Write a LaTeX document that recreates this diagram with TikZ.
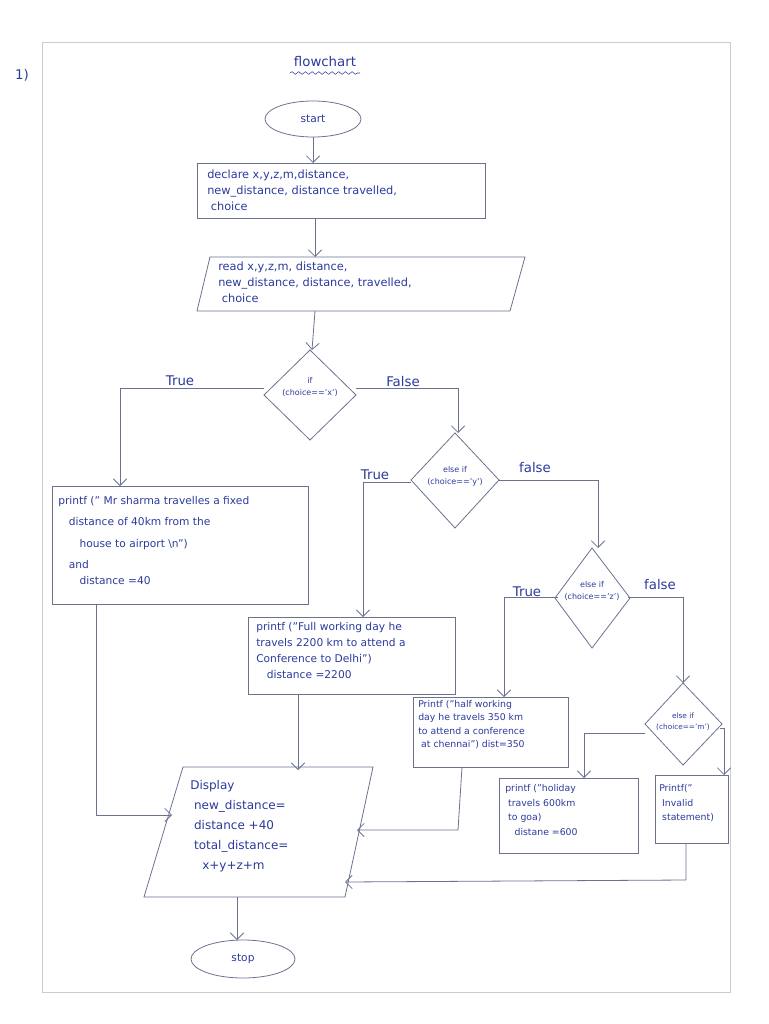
\documentclass[tikz,border=0pt]{standalone}
\usepackage{fontspec}
\setmainfont{DejaVu Sans}
\usetikzlibrary{shapes.geometric,arrows.meta,decorations.pathmorphing}
\definecolor{ink}{HTML}{2B3A9C}
\definecolor{pen}{HTML}{6A7290}
\begin{document}
\begin{tikzpicture}[x=0.75pt,y=-0.75pt,
  ln/.style={draw=pen,line width=0.6pt},
  arr/.style={ln,-{Straight Barb[length=5pt]}},
  txt/.style={text=ink,font=\fontsize{8}{12}\selectfont,inner sep=0pt},
  small/.style={font=\fontsize{6}{9}\selectfont},
  lbl/.style={text=ink,font=\fontsize{10}{12}\selectfont,inner sep=0pt}]
\useasboundingbox (0,0) rectangle (768,1024);
\draw[gray!40,line width=0.5pt] (42,42) rectangle (730,992);
\node[lbl] (num) at (22,75) {1)};
\node[lbl] (title) at (325,62) {flowchart};
\draw[ink,decorate,decoration={snake,amplitude=1pt,segment length=5pt}] (290,73) -- (360,73);
% start
\draw[ln] (313,119) ellipse (48 and 18);
\node[txt] (start) at (313,119) {start};
% declare
\draw[ln] (197,163) rectangle (485,218);
\node[txt,anchor=north west,align=left,font=\fontsize{8.5}{12}\selectfont] (decl) at (207,170) {declare x,y,z,m,distance,\\new\_distance, distance travelled,\\\ choice};
% read
\draw[ln] (210,257) -- (525,257) -- (510,311) -- (197,311) -- cycle;
\node[txt,anchor=north west,align=left,font=\fontsize{8.5}{12}\selectfont] (read) at (218,262) {read x,y,z,m, distance,\\new\_distance, distance, travelled,\\\ choice};
% diamonds
\draw[ln] (310,350) -- (356,395) -- (310,440) -- (264,395) -- cycle;
\node[txt,align=center,small] (if1) at (310,387) {if\\(choice=='x')};
\draw[ln] (455,433) -- (499,480) -- (455,528) -- (411,480) -- cycle;
\node[txt,align=center,small] (if2) at (455,476) {else if\\(choice=='y')};
\draw[ln] (592,548) -- (630,598) -- (592,648) -- (555,598) -- cycle;
\node[txt,align=center,small] (if3) at (592,591) {else if\\(choice=='z')};
\draw[ln] (683,683) -- (722,724) -- (683,765) -- (645,724) -- cycle;
\node[txt,align=center,font=\fontsize{5.5}{8}\selectfont] (if4) at (683,722) {else if\\(choice=='m')};
% labels
\node[lbl] (t1) at (180,381) {True};
\node[lbl] (f1) at (403,382) {False};
\node[lbl] (t2) at (375,475) {True};
\node[lbl] (f2) at (535,468) {false};
\node[lbl] (t3) at (527,592) {True};
\node[lbl] (f3) at (660,585) {false};
% print boxes
\draw[ln] (52,486) rectangle (308,604);
\node[txt,anchor=north west,align=left] (p1) at (58,496) {printf (" Mr sharma travelles a fixed\\[4pt]\quad distance of 40km from the\\[4pt]\qquad house to airport \textbackslash n")\\[4pt]\quad and\\\qquad distance =40};
\draw[ln] (248,617) rectangle (455,694);
\node[txt,anchor=north west,align=left] (p2) at (256,622) {printf ("Full working day he\\travels 2200 km to attend a\\Conference to Delhi")\\\quad distance =2200};
\draw[ln] (413,697) rectangle (568,767);
\node[txt,anchor=north west,align=left,font=\fontsize{7}{10}\selectfont] (p3) at (418,700) {Printf ("half working\\day he travels 350 km\\to attend a conference\\\ at chennai") dist=350};
\draw[ln] (499,778) rectangle (638,853);
\node[txt,anchor=north west,align=left,font=\fontsize{7}{11}\selectfont] (p4) at (505,784) {printf ("holiday\\\ travels 600km\\\ to goa)\\\quad distane =600};
\draw[ln] (655,775) rectangle (728,843);
\node[txt,anchor=north west,align=left,font=\fontsize{7}{11}\selectfont] (p5) at (659,784) {Printf("\\\ Invalid\\\ statement)};
% display
\draw[ln] (183,767) -- (373,767) -- (345,897) -- (144,897) -- cycle;
\node[txt,anchor=north west,align=left,font=\fontsize{9}{15}\selectfont] (disp) at (190,780) {Display\\\ new\_distance=\\\ distance +40\\\ total\_distance=\\\quad x+y+z+m};
% stop
\draw[ln] (243,959) ellipse (52 and 19);
\node[txt] (stop) at (243,959) {stop};
% connectors
\coordinate (a1) at (313,137); \coordinate (a2) at (313,163);
\draw[arr] (a1) -- (a2);
\draw[arr] (315,218) -- (315,257);
\draw[arr] (315,311) -- (312,350);
\draw[arr] (264,388) -- (120,388) -- (120,486);
\draw[arr] (356,388) -- (458,388) -- (458,433);
\draw[arr] (411,482) -- (363,482) -- (363,617);
\draw[arr] (499,480) -- (598,480) -- (598,548);
\draw[arr] (558,597) -- (504,597) -- (504,697);
\draw[arr] (628,597) -- (683,597) -- (683,683);
\draw[arr] (645,733) -- (584,733) -- (584,778);
\draw[arr] (720,728) -- (724,728) -- (724,775);
\draw[arr] (96,604) -- (96,815) -- (172,815);
\draw[arr] (298,694) -- (298,770);
\draw[arr] (462,767) -- (458,830) -- (357,830);
\draw[arr] (686,843) -- (686,880) -- (345,882);
\draw[arr] (237,897) -- (237,940);
\end{tikzpicture}
\end{document}
